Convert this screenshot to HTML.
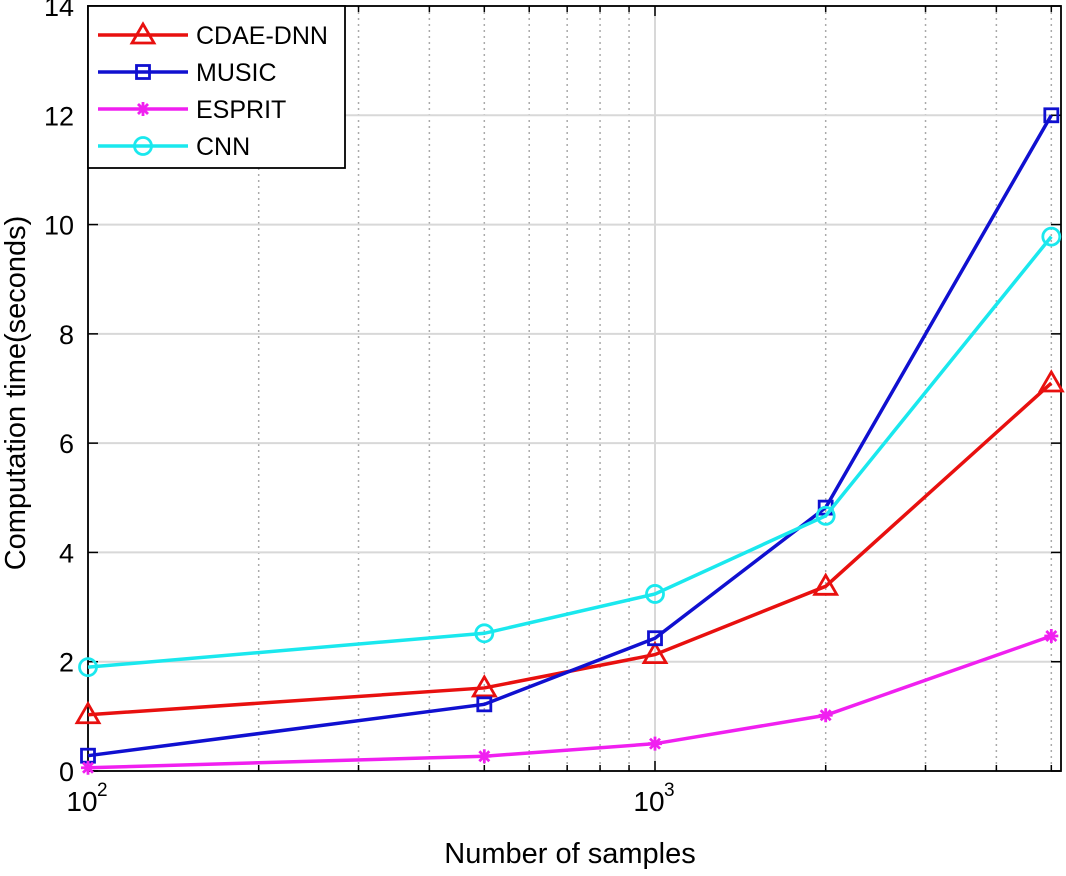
<!DOCTYPE html>
<html><head><meta charset="utf-8"><style>
body{margin:0;background:#fff;}
svg text{font-family:"Liberation Sans",Arial,sans-serif;}
</style></head><body>
<svg id="chart" width="1066" height="871" xmlns="http://www.w3.org/2000/svg">
<g id="grid"></g>
<g id="axes"></g>
<g id="series"></g>
<g id="legend"></g>
<text x="570" y="863" font-size="29" text-anchor="middle">Number of samples</text>
<text transform="translate(25,393) rotate(-90)" font-size="29" text-anchor="middle">Computation time(seconds)</text>
</svg>
<script>
const samples=[100,500,1000,2000,5000];
const cdae=[1.03,1.52,2.13,3.38,7.1];
const music=[0.28,1.22,2.43,4.82,12.0];
const esprit=[0.06,0.27,0.5,1.02,2.47];
const cnn=[1.9,2.52,3.24,4.67,9.78];
const yTicks=[0,2,4,6,8,10,12,14];
const seriesNames=["CDAE-DNN","MUSIC","ESPRIT","CNN"];

const L=88,R=1061,T=6,B=771;
const xMinLog=2, decadePx=567;
const xs=v=>L+(Math.log10(v)-xMinLog)*decadePx;
const ys=v=>B-(v-0)/(14-0)*(B-T);
const NS="http://www.w3.org/2000/svg";
function mk(tag,attrs,parent){const e=document.createElementNS(NS,tag);for(const k in attrs)e.setAttribute(k,attrs[k]);parent.appendChild(e);return e;}
const grid=document.getElementById('grid'),axes=document.getElementById('axes'),ser=document.getElementById('series'),leg=document.getElementById('legend');

for(let d=100;d<=1000;d*=10){for(let m=2;m<=9;m++){const v=d*m;const x=xs(v);if(x>R)continue;
const l=mk('line',{x1:x,x2:x,y1:T,y2:B,stroke:'#aaa','stroke-width':1.5,'stroke-dasharray':'2,4'},grid);
}}
[100,1000].forEach(v=>{const l=mk('line',{x1:xs(v),x2:xs(v),y1:T,y2:B,stroke:'#d8d8d8','stroke-width':2},grid);
});
yTicks.forEach(t=>{const y=ys(t);
const l=mk('line',{x1:L,x2:R,y1:y,y2:y,stroke:'#d8d8d8','stroke-width':2},grid);

const a=mk('line',{x1:L,x2:L+10,y1:y,y2:y,stroke:'#000','stroke-width':1.5},axes);
const b=mk('line',{x1:R-10,x2:R,y1:y,y2:y,stroke:'#000','stroke-width':1.5},axes);
const tx=mk('text',{x:L-14,y:y+10,'font-size':27,'text-anchor':'end'},axes);tx.textContent=t;
});
for(let d=100;d<=1000;d*=10){for(let m=1;m<=9;m++){const x=xs(d*m);if(x>R)continue;const len=m==1?10:6;
const a=mk('line',{x1:x,x2:x,y1:B,y2:B-len,stroke:'#000','stroke-width':1.5},axes);
const b=mk('line',{x1:x,x2:x,y1:T,y2:T+len,stroke:'#000','stroke-width':1.5},axes);}}
[[100,'2'],[1000,'3']].forEach(([v,e])=>{const x=xs(v);
const t=mk('text',{x:x-6,y:B+40,'font-size':28,'text-anchor':'middle'},axes);t.textContent='10';

const s=mk('text',{x:x+9,y:B+25,'font-size':19},axes);s.textContent=e;
});
const box=mk('rect',{x:L,y:T,width:R-L,height:B-T,fill:'none',stroke:'#000','stroke-width':1.8},axes);


function marker(type,x,y,color,g){
 let e;
 if(type==='tri'){e=mk('polygon',{points:`${x},${y-11} ${x-11},${y+8} ${x+11},${y+8}`,fill:'none',stroke:color,'stroke-width':2.8},g);}
 else if(type==='sq'){e=mk('rect',{x:x-6.5,y:y-6.5,width:13,height:13,fill:'none',stroke:color,'stroke-width':2.8},g);}
 else if(type==='circ'){e=mk('circle',{cx:x,cy:y,r:8.5,fill:'none',stroke:color,'stroke-width':2.8},g);}
 else{e=mk('path',{d:`M${x-7},${y}H${x+7}M${x},${y-7}V${y+7}M${x-5},${y-5}L${x+5},${y+5}M${x-5},${y+5}L${x+5},${y-5}`,stroke:color,'stroke-width':2.8},g);}
 return e;
}
const defs=[[cdae,'#e8100f','tri','cdae-dnn'],[music,'#1010d0','sq','music'],[esprit,'#f020f0','star','esprit'],[cnn,'#1ae8ee','circ','cnn']];
defs.forEach(([vals,c,m,n])=>{
 const g=mk('g',{},ser);
 const p=mk('polyline',{points:vals.map((v,i)=>xs(samples[i])+','+ys(v)).join(' '),fill:'none',stroke:c,'stroke-width':3.5},g);
 
 vals.forEach((v,i)=>{const mm=marker(m,xs(samples[i]),ys(v),c,g);
 });
});
const lb=mk('rect',{x:L,y:T,width:257,height:162,fill:'#fff',stroke:'#000','stroke-width':1.8},leg);

defs.forEach(([vals,c,m,n],i)=>{const y=35+i*37;
 const g=mk('g',{},leg);
 mk('line',{x1:98,x2:188,y1:y,y2:y,stroke:c,'stroke-width':3.5},g);
 marker(m,143,y,c,g);
 const t=mk('text',{x:196,y:y+9,'font-size':25},g);t.textContent=seriesNames[i];
 
});
</script>
</body></html>
